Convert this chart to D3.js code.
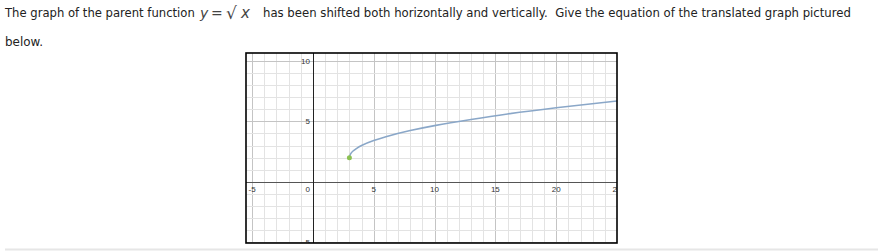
<!DOCTYPE html>
<html><head><meta charset="utf-8">
<script src="https://cdn.jsdelivr.net/npm/d3@7/dist/d3.min.js"></script>
<style>
html,body{margin:0;padding:0;background:#fff;}
svg{display:block;}
</style></head>
<body>
<svg id="c" width="878" height="251"></svg>
<script>
// data
const xTicks = [-5, 0, 5, 10, 15, 20, 25];
const yTicks = [-5, 5, 10];
const xTickLabels = ["-5", "0", "5", "10", "15", "20", "25"];
const yTickLabels = ["-5", "5", "10"];
const curveX = [3, 3.1, 3.3, 3.6, 4, 5, 6, 8, 10, 13, 16, 20, 25];
const curveY = [2, 2.32, 2.55, 2.77, 3, 3.41, 3.73, 4.24, 4.65, 5.16, 5.61, 6.12, 6.69];
const startPoint = [3, 2];
const xDomain = [-5.5, 25];
const yDomain = [-5.05, 10.65];

const svg = d3.select("#c");
const L = 246, R = 617, T = 53, B = 243;
const x = d3.scaleLinear().domain(xDomain).range([L, R]);
const y = d3.scaleLinear().domain(yDomain).range([B, T]);

// question text (font size fitted to measured span)
const tf = "'DejaVu Sans', Verdana, sans-serif";
const t1 = svg.append("g").attr("fill", "#222").attr("font-family", tf).attr("font-size", 12.5);
function fitText(sel, target) {
  const base = 12.5;
  sel.attr("font-size", base);
  const len = sel.node().getComputedTextLength();
  if (len > 0) sel.attr("font-size", base * target / len);
  return sel;
}
fitText(t1.append("text").attr("x", 5).attr("y", 17).text("The graph of the parent function"), 190);
t1.append("text").attr("x", 200).attr("y", 18).attr("font-style", "italic").attr("font-size", 14)
  .attr("fill", "#444").text("y");
t1.append("text").attr("x", 211).attr("y", 18).attr("font-size", 14).attr("fill", "#444").text("=");
t1.append("text").attr("x", 226).attr("y", 19).attr("font-size", 17).attr("fill", "#444").text("√");
t1.append("text").attr("x", 241).attr("y", 18).attr("font-style", "italic").attr("font-size", 15)
  .attr("fill", "#444").text("x");
fitText(t1.append("text").attr("x", 263).attr("y", 17).attr("xml:space", "preserve")
  .text("has been shifted both horizontally and vertically.  Give the equation of the translated graph pictured"), 589);
fitText(t1.append("text").attr("x", 5).attr("y", 46).text("below."), 38);

// clip
svg.append("defs").append("clipPath").attr("id", "box")
  .append("rect").attr("x", L).attr("y", T).attr("width", R - L).attr("height", B - T);
const g = svg.append("g").attr("clip-path", "url(#box)");

// grid
const minorX = d3.range(Math.ceil(xDomain[0]), Math.floor(xDomain[1]) + 1);
const minorY = d3.range(Math.ceil(yDomain[0]), Math.floor(yDomain[1]) + 1);
g.selectAll(".gx").data(minorX).join("line")
  .attr("x1", d => Math.round(x(d)) + 0.5).attr("x2", d => Math.round(x(d)) + 0.5)
  .attr("y1", T).attr("y2", B)
  .attr("stroke", d => d % 5 === 0 ? "#c4c4c4" : "#e3e3e3").attr("stroke-width", 1);
g.selectAll(".gy").data(minorY).join("line")
  .attr("y1", d => Math.round(y(d)) + 0.5).attr("y2", d => Math.round(y(d)) + 0.5)
  .attr("x1", L).attr("x2", R)
  .attr("stroke", d => d % 5 === 0 ? "#c4c4c4" : "#e3e3e3").attr("stroke-width", 1);

// axes
g.append("line").attr("x1", L).attr("x2", R)
  .attr("y1", Math.round(y(0)) + 0.5).attr("y2", Math.round(y(0)) + 0.5)
  .attr("stroke", "#555").attr("stroke-width", 1);
g.append("line").attr("y1", T).attr("y2", B)
  .attr("x1", Math.round(x(0)) + 0.5).attr("x2", Math.round(x(0)) + 0.5)
  .attr("stroke", "#222").attr("stroke-width", 1);

// tick labels
const lf = "'Liberation Sans', Arial, sans-serif";
const xl = svg.append("g").attr("font-family", lf).attr("font-size", 8).attr("fill", "#333");
xTicks.forEach((v, i) => {
  const t = xl.append("text").attr("y", y(0) + 10).text(xTickLabels[i]);
  if (v === 0) t.attr("x", x(0) - 3).attr("text-anchor", "end");
  else t.attr("x", x(v)).attr("text-anchor", "middle");
  if (v === 25) t.attr("clip-path", "url(#box)");
});
yTicks.forEach((v, i) => {
  const t = xl.append("text").attr("x", x(0) - 3).attr("y", y(v) + 3)
    .attr("text-anchor", "end").text(yTickLabels[i]);
  if (v === -5) t.attr("clip-path", "url(#box)");
});

// curve
const pts = curveX.map((d, i) => [d, curveY[i]]);
g.append("path").datum(pts)
  .attr("d", d3.line().x(d => x(d[0])).y(d => y(d[1])).curve(d3.curveMonotoneY))
  .attr("fill", "none").attr("stroke", "#8aa7c8").attr("stroke-width", 1.6);
g.append("circle").attr("cx", x(startPoint[0])).attr("cy", y(startPoint[1])).attr("r", 2.5)
  .attr("fill", "#8cc152");

// border
svg.append("rect").attr("x", L).attr("y", T).attr("width", R - L).attr("height", B - T)
  .attr("fill", "none").attr("stroke", "#000").attr("stroke-width", 1.6);

// bottom rule
svg.append("line").attr("x1", 5).attr("x2", 878).attr("y1", 249.5).attr("y2", 249.5)
  .attr("stroke", "#e6e6e6").attr("stroke-width", 2);
</script>
</body></html>
